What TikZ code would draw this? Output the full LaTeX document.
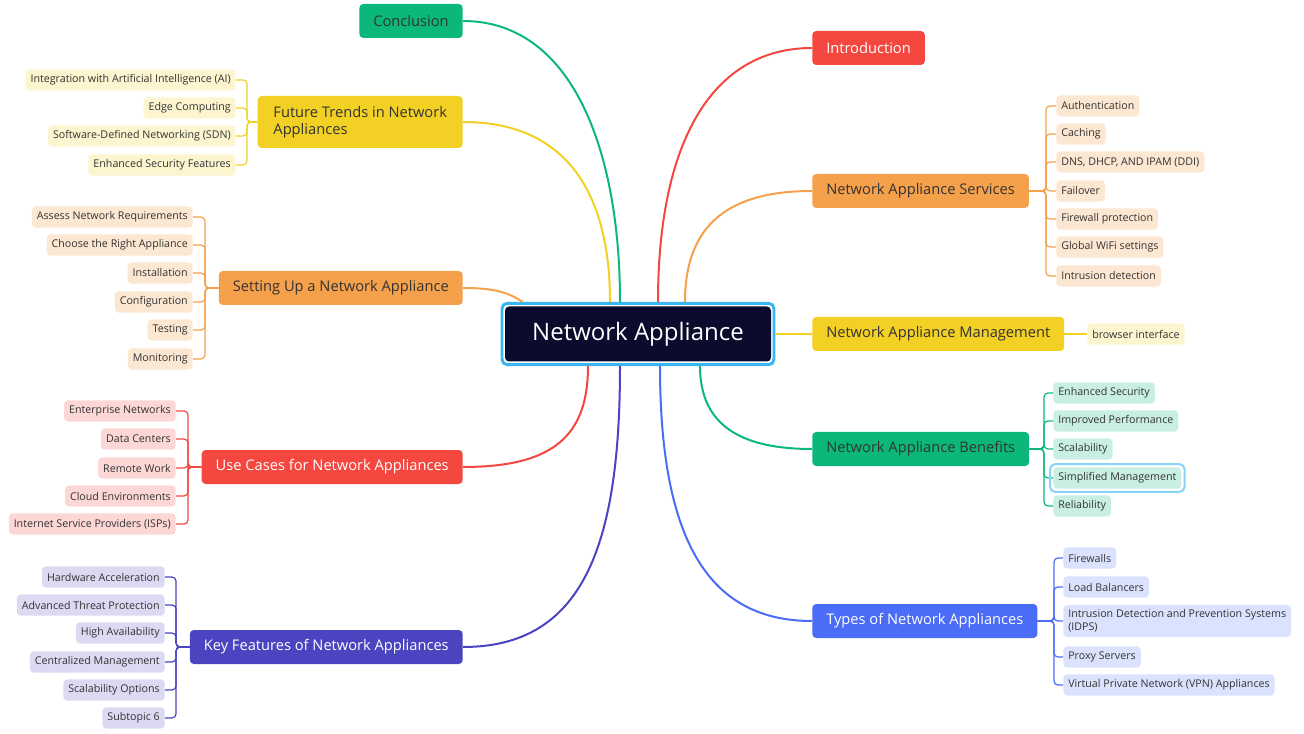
\documentclass[tikz,border=0pt]{standalone}
\usepackage{fontspec}
\setmainfont{Open Sans}
\definecolor{navy}{HTML}{0B0B2E}
\definecolor{ring}{HTML}{3BB5F0}
\definecolor{cred}{HTML}{F4473F}
\definecolor{cora}{HTML}{F5A04B}
\definecolor{cyel}{HTML}{F2D024}
\definecolor{cgrn}{HTML}{0BB87A}
\definecolor{cblu}{HTML}{4A6CF7}
\definecolor{cind}{HTML}{4B44C0}
\definecolor{txt}{HTML}{333333}
\tikzset{
  main/.style={rounded corners=3pt, minimum height=25.5pt, inner xsep=10.5pt,
    font=\fontsize{11}{13}\selectfont, fill=#1},
  sub/.style={rounded corners=3pt, minimum height=16pt, inner xsep=3.75pt,
    font=\fontsize{8}{10}\selectfont, text=txt, fill=#1},
  link/.style={draw=#1, line width=1.5pt},
  twig/.style={draw=#1, line width=0.9pt, rounded corners=3pt}
}
\begin{document}
\begin{tikzpicture}[x=0.75pt,y=-0.75pt]
  \useasboundingbox (0,0) rectangle (1304,734);
  % centre
  \node[draw=ring, line width=2.2pt, rounded corners=4pt, minimum width=204pt,
    minimum height=46pt] (ring) at (638,334) {};
  \node[fill=navy, rounded corners=3pt, minimum width=199.5pt, minimum height=41.25pt,
    text=white, font=\fontsize{18}{20}\selectfont] (ctr) at (638,334) {Network Appliance};
  % right side
  \node[main=cred, text=white, anchor=west] (intro) at (812,48) {Introduction};
  \node[main=cora, text=txt, anchor=west] (svc) at (812,191) {Network Appliance Services};
  \node[main=cyel, text=txt, anchor=west] (mgmt) at (812,334) {Network Appliance Management};
  \node[main=cgrn, text=txt, anchor=west] (ben) at (812,449) {Network Appliance Benefits};
  \node[main=cblu, text=white, anchor=west] (typ) at (812,621) {Types of Network Appliances};
  % left side
  \node[main=cgrn, text=txt, anchor=east] (concl) at (463,21) {Conclusion};
  \node[main=cyel, text=txt, anchor=east, minimum height=39pt, minimum width=153.75pt,
    align=left] (fut) at (463,122) {Future Trends in Network\\Appliances};
  \node[main=cora, text=txt, anchor=east] (setup) at (463,288) {Setting Up a Network Appliance};
  \node[main=cred, text=white, anchor=east] (use) at (463,467) {Use Cases for Network Appliances};
  \node[main=cind, text=white, anchor=east] (key) at (463,647) {Key Features of Network Appliances};
  % links
  \draw[link=cgrn] ([xshift=-13.5pt]ring.north) .. controls +(0,-150) and +(110,0) .. (concl.east);
  \draw[link=cyel] ([xshift=-21pt]ring.north) .. controls +(0,-100) and +(110,0) .. (fut.east);
  \draw[link=cora] ([xshift=16.5pt]ring.north west) .. controls +(-15,-10) and +(30,0) .. (setup.east);
  \draw[link=cred] ([xshift=-37.5pt]ring.south) .. controls +(0,70) and +(90,0) .. (use.east);
  \draw[link=cind] ([xshift=-13.5pt]ring.south) .. controls +(0,180) and +(120,0) .. (key.east);
  \draw[link=cred] ([xshift=15pt]ring.north) .. controls +(0,-160) and +(-100,0) .. (intro.west);
  \draw[link=cora] ([xshift=35.25pt]ring.north) .. controls +(0,-80) and +(-80,0) .. (svc.west);
  \draw[link=cyel] (ring.east) -- (mgmt.west);
  \draw[link=cgrn] ([xshift=46.5pt]ring.south) .. controls +(0,60) and +(-70,0) .. (ben.west);
  \draw[link=cblu] ([xshift=16.5pt]ring.south) .. controls +(0,180) and +(-100,0) .. (typ.west);
  % subtopics, right
  \foreach \y/\t [count=\i] in {106/Authentication, 134/Caching, 162/{DNS, DHCP, AND IPAM (DDI)},
      191/Failover, 219/Firewall protection, 247/Global WiFi settings, 276/Intrusion detection} {
    \node[sub=cora!25, anchor=west] (sv\i) at (1056,\y) {\t};
    \draw[twig=cora] (svc.east) -- (1046,191) |- (sv\i.west);
  }
  \node[sub=cyel!22, anchor=west] (mg1) at (1087,334) {browser interface};
  \draw[twig=cyel] (mgmt.east) -- (mg1.west);
  \foreach \y/\t [count=\i] in {393/Enhanced Security, 421/Improved Performance, 449/Scalability,
      478/Simplified Management, 506/Reliability} {
    \node[sub=cgrn!22, anchor=west] (bn\i) at (1053,\y) {\t};
    \draw[twig=cgrn] (ben.east) -- (1044,449) |- (bn\i.west);
  }
  \draw[draw=ring!60, line width=1.5pt, rounded corners=4pt]
    ([shift={(-3,-3)}]bn4.north west) rectangle ([shift={(3,3)}]bn4.south east);
  \foreach \y/\t [count=\i] in {558/Firewalls, 587/Load Balancers,
      621/{Intrusion Detection and Prevention Systems\\(IDPS)}, 657/Proxy Servers,
      685/Virtual Private Network (VPN) Appliances} {
    \node[sub=cblu!20, anchor=west, align=left] (tp\i) at (1063,\y) {\t};
    \draw[twig=cblu] (typ.east) -- (1054,621) |- (tp\i.west);
  }
  % subtopics, left
  \foreach \y/\t [count=\i] in {80/Integration with Artificial Intelligence (AI), 108/Edge Computing,
      136/Software-Defined Networking (SDN), 165/Enhanced Security Features} {
    \node[sub=cyel!22, anchor=east] (ft\i) at (236,\y) {\t};
    \draw[twig=cyel] (fut.west) -- (247,122) |- (ft\i.east);
  }
  \foreach \y/\t [count=\i] in {217/Assess Network Requirements, 245/Choose the Right Appliance,
      273/Installation, 302/Configuration, 330/Testing, 359/Monitoring} {
    \node[sub=cora!25, anchor=east] (su\i) at (193,\y) {\t};
    \draw[twig=cora] (setup.west) -- (205,288) |- (su\i.east);
  }
  \foreach \y/\t [count=\i] in {411/Enterprise Networks, 439/Data Centers, 468/Remote Work,
      496/Cloud Environments, 524/Internet Service Providers (ISPs)} {
    \node[sub=cred!22, anchor=east] (uc\i) at (176,\y) {\t};
    \draw[twig=cred] (use.west) -- (188,467) |- (uc\i.east);
  }
  \foreach \y/\t [count=\i] in {577/Hardware Acceleration, 605/Advanced Threat Protection,
      633/High Availability, 662/Centralized Management, 690/Scalability Options, 718/Subtopic 6} {
    \node[sub=cind!20, anchor=east] (kf\i) at (165,\y) {\t};
    \draw[twig=cind] (key.west) -- (176,647) |- (kf\i.east);
  }
\end{tikzpicture}
\end{document}
